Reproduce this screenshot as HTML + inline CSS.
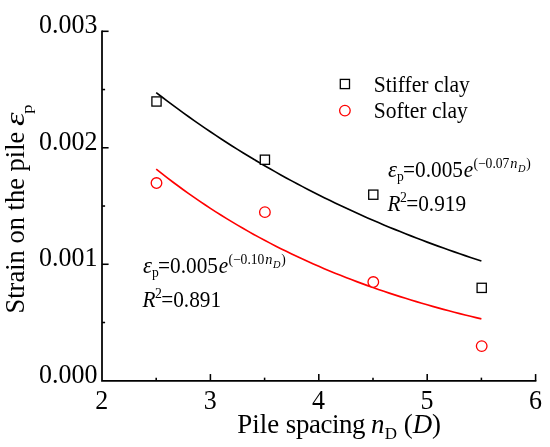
<!DOCTYPE html>
<html><head><meta charset="utf-8"><title>Strain on the pile vs pile spacing</title>
<style>
html,body{margin:0;padding:0;background:#fff;}
body{width:550px;height:447px;overflow:hidden;}
svg{display:block;}
text{font-family:"Liberation Serif","Times New Roman",serif;fill:#000;}
.t25{font-size:25.5px;}
.t21{font-size:21.3px;}
.t27{font-size:26.9px;}
.t26{font-size:26px;}
.t216{font-size:21.6px;}
.i{font-style:italic;}
</style></head><body>
<svg width="550" height="447" viewBox="0 0 550 447">
<rect width="550" height="447" fill="#fff"/>

<path d="M102.00,30.50 V380.75 H536.40" stroke="#000" stroke-width="1.75" fill="none"/>
<g stroke="#000" stroke-width="1.55" fill="none" stroke-linecap="butt">
<path d="M102.00,322.51 h3.10"/>
<path d="M102.00,264.27 h6.60"/>
<path d="M102.00,206.03 h3.10"/>
<path d="M102.00,147.78 h6.60"/>
<path d="M102.00,89.54 h3.10"/>
<path d="M102.00,31.30 h6.60"/>
<path d="M156.20,380.75 v-3.10"/>
<path d="M210.40,380.75 v-6.70"/>
<path d="M264.60,380.75 v-3.10"/>
<path d="M318.80,380.75 v-6.70"/>
<path d="M373.00,380.75 v-3.10"/>
<path d="M427.20,380.75 v-6.70"/>
<path d="M481.40,380.75 v-3.10"/>
<path d="M535.60,380.75 v-6.70"/>
</g>
<text class="t26" transform="translate(97.40,382.65) scale(1,1.035)" text-anchor="end">0.000</text>
<text class="t26" transform="translate(97.40,266.17) scale(1,1.035)" text-anchor="end">0.001</text>
<text class="t26" transform="translate(97.40,150.08) scale(1,1.035)" text-anchor="end">0.002</text>
<text class="t26" transform="translate(97.40,32.60) scale(1,1.035)" text-anchor="end">0.003</text>
<text class="t26" transform="translate(101.80,409.30) scale(1,1.035)" text-anchor="middle">2</text>
<text class="t26" transform="translate(210.20,409.30) scale(1,1.035)" text-anchor="middle">3</text>
<text class="t26" transform="translate(318.60,409.30) scale(1,1.035)" text-anchor="middle">4</text>
<text class="t26" transform="translate(427.00,409.30) scale(1,1.035)" text-anchor="middle">5</text>
<text class="t26" transform="translate(535.40,409.30) scale(1,1.035)" text-anchor="middle">6</text>
<path d="M156.20,92.56 L161.62,96.74 L167.04,100.87 L172.46,104.94 L177.88,108.94 L183.30,112.89 L188.72,116.78 L194.14,120.62 L199.56,124.40 L204.98,128.12 L210.40,131.79 L215.82,135.41 L221.24,138.97 L226.66,142.49 L232.08,145.95 L237.50,149.36 L242.92,152.72 L248.34,156.03 L253.76,159.30 L259.18,162.52 L264.60,165.69 L270.02,168.81 L275.44,171.89 L280.86,174.92 L286.28,177.91 L291.70,180.86 L297.12,183.77 L302.54,186.63 L307.96,189.45 L313.38,192.23 L318.80,194.97 L324.22,197.67 L329.64,200.33 L335.06,202.95 L340.48,205.53 L345.90,208.08 L351.32,210.58 L356.74,213.06 L362.16,215.49 L367.58,217.89 L373.00,220.26 L378.42,222.59 L383.84,224.89 L389.26,227.15 L394.68,229.38 L400.10,231.58 L405.52,233.75 L410.94,235.89 L416.36,237.99 L421.78,240.07 L427.20,242.11 L432.62,244.12 L438.04,246.11 L443.46,248.06 L448.88,249.99 L454.30,251.89 L459.72,253.76 L465.14,255.61 L470.56,257.43 L475.98,259.22 L481.40,260.98" fill="none" stroke="#000" stroke-width="1.65"/>
<path d="M156.20,169.11 L161.62,173.40 L167.04,177.61 L172.46,181.73 L177.88,185.77 L183.30,189.72 L188.72,193.60 L194.14,197.40 L199.56,201.12 L204.98,204.76 L210.40,208.33 L215.82,211.83 L221.24,215.26 L226.66,218.62 L232.08,221.91 L237.50,225.13 L242.92,228.29 L248.34,231.38 L253.76,234.41 L259.18,237.38 L264.60,240.29 L270.02,243.14 L275.44,245.93 L280.86,248.67 L286.28,251.35 L291.70,253.98 L297.12,256.55 L302.54,259.07 L307.96,261.54 L313.38,263.96 L318.80,266.33 L324.22,268.65 L329.64,270.92 L335.06,273.15 L340.48,275.34 L345.90,277.47 L351.32,279.57 L356.74,281.62 L362.16,283.63 L367.58,285.60 L373.00,287.54 L378.42,289.43 L383.84,291.28 L389.26,293.10 L394.68,294.87 L400.10,296.62 L405.52,298.32 L410.94,300.00 L416.36,301.63 L421.78,303.24 L427.20,304.81 L432.62,306.35 L438.04,307.86 L443.46,309.34 L448.88,310.79 L454.30,312.21 L459.72,313.60 L465.14,314.96 L470.56,316.30 L475.98,317.61 L481.40,318.89" fill="none" stroke="#f00" stroke-width="1.65"/>
<rect x="151.90" y="96.89" width="9.2" height="9.2" fill="#fff" stroke="#000" stroke-width="1.3"/>
<rect x="260.30" y="155.13" width="9.2" height="9.2" fill="#fff" stroke="#000" stroke-width="1.3"/>
<rect x="368.70" y="190.08" width="9.2" height="9.2" fill="#fff" stroke="#000" stroke-width="1.3"/>
<rect x="477.10" y="283.26" width="9.2" height="9.2" fill="#fff" stroke="#000" stroke-width="1.3"/>
<circle cx="156.50" cy="183.03" r="5.3" fill="#fff" stroke="#f00" stroke-width="1.3"/>
<circle cx="264.90" cy="212.15" r="5.3" fill="#fff" stroke="#f00" stroke-width="1.3"/>
<circle cx="373.30" cy="282.04" r="5.3" fill="#fff" stroke="#f00" stroke-width="1.3"/>
<circle cx="481.70" cy="346.11" r="5.3" fill="#fff" stroke="#f00" stroke-width="1.3"/>
<rect x="340.30" y="79.40" width="9.2" height="9.2" fill="#fff" stroke="#000" stroke-width="1.3"/>
<circle cx="344.90" cy="110.60" r="5.3" fill="#fff" stroke="#f00" stroke-width="1.3"/>
<text class="t216" transform="translate(373.80,91.70) scale(1,1.055)">Stiffer clay</text>
<text class="t216" transform="translate(373.80,118.00) scale(1,1.055)">Softer clay</text>
<text class="t21" transform="translate(388.00,176.80) scale(1,1.055)"><tspan class="i" font-size="22.8">ε</tspan><tspan dy="4" font-size="13.6">p</tspan><tspan dy="-4" dx="-0.7">=0.005</tspan><tspan class="i" dx="0.7">e</tspan><tspan dx="0.3" dy="-8.2" font-size="13.6">(−0.07</tspan><tspan class="i" dx="0.8" font-size="14.4">n</tspan><tspan class="i" dx="0.5" dy="3.8" font-size="10.4">D</tspan><tspan dy="-3.8" dx="0.9" font-size="13.6">)</tspan></text><text class="t21" transform="translate(387.40,210.50) scale(1,1.055)"><tspan class="i">R</tspan><tspan dx="-0.5" dy="-8.4" font-size="13.8">2</tspan><tspan dy="8.4" dx="-0.6">=0.919</tspan></text>
<text class="t21" transform="translate(143.00,273.00) scale(1,1.055)"><tspan class="i" font-size="22.8">ε</tspan><tspan dy="4" font-size="13.6">p</tspan><tspan dy="-4" dx="-0.7">=0.005</tspan><tspan class="i" dx="0.7">e</tspan><tspan dx="0.3" dy="-8.2" font-size="13.6">(−0.10</tspan><tspan class="i" dx="0.8" font-size="14.4">n</tspan><tspan class="i" dx="0.5" dy="3.8" font-size="10.4">D</tspan><tspan dy="-3.8" dx="0.9" font-size="13.6">)</tspan></text><text class="t21" transform="translate(142.40,306.60) scale(1,1.055)"><tspan class="i">R</tspan><tspan dx="-0.5" dy="-8.4" font-size="13.8">2</tspan><tspan dy="8.4" dx="-0.6">=0.891</tspan></text>
<text class="t27" transform="translate(237.30,433.40) scale(1,1.000)">Pile <tspan letter-spacing="-0.43">spacing</tspan> <tspan class="i" dx="-0.8">n</tspan><tspan dx="0.3" dy="6" font-size="17">D</tspan><tspan dy="-6"> (</tspan><tspan class="i">D</tspan><tspan>)</tspan></text>
<text transform="translate(24,313.5) rotate(-90)" font-size="26.5">Strain on the pile</text>
<text class="i" transform="translate(24,125.9) rotate(-90) scale(1.3,1)" font-size="26.5">ε</text>
<text transform="translate(31.6,114) rotate(-90) scale(1.25,1)" font-size="15.4">p</text>
</svg></body></html>
